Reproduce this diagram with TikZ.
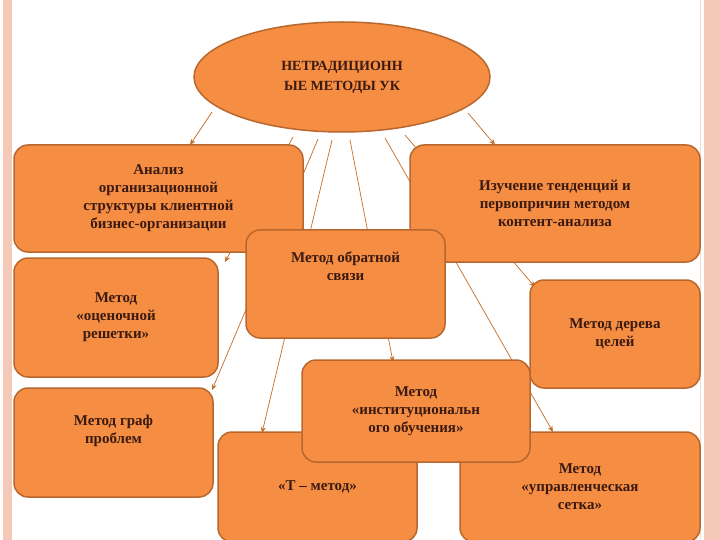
\documentclass[tikz,border=0pt]{standalone}
\usepackage{fontspec}
\setmainfont{Liberation Serif}
\usetikzlibrary{arrows.meta,shapes.geometric}
\definecolor{fillor}{HTML}{F58D42}
\definecolor{edgeor}{HTML}{B8682E}
\definecolor{txt}{HTML}{3A1A12}
\definecolor{pinkb}{HTML}{F4C9B8}
\begin{document}
\begin{tikzpicture}[x=1pt,y=-1pt,
  box/.style={draw=edgeor,line width=1.5pt,fill=fillor,rounded corners=14pt,text=txt,font=\bfseries\fontsize{15}{18}\selectfont,align=center},
  conn/.style={draw=edgeor!80!orange,line width=0.7pt,-{Stealth[length=6pt,width=5pt]}}]
\useasboundingbox (0,0) rectangle (720,540);
\fill[white] (0,0) rectangle (720,540);
\fill[pinkb] (3,0) rectangle (12,540);
\fill[pinkb] (704,0) rectangle (720,540);
\draw[pinkb!70!white,line width=1pt] (700,0) -- (700,540);
% connectors first
\coordinate (s1) at (212,112); \coordinate (e1) at (190,145);
\coordinate (s2) at (293,137); \coordinate (e2) at (225,262);
\coordinate (s3) at (318,139); \coordinate (e3) at (212,390);
\coordinate (s4) at (332,140); \coordinate (e4) at (262,433);
\coordinate (s5) at (350,140); \coordinate (e5) at (393,362);
\coordinate (s6) at (385,138); \coordinate (e6) at (553,432);
\coordinate (s7) at (405,135); \coordinate (e7) at (535,287);
\coordinate (s8) at (468,113); \coordinate (e8) at (495,145);
\foreach \i in {1,...,8} {\draw[conn] (s\i) -- (e\i);}
% boxes
\node[box,minimum width=289pt,minimum height=107pt] (a1) at (158.5,198.5) {Анализ\\организационной\\структуры клиентной\\бизнес-организации};
\node[box,minimum width=290pt,minimum height=117pt] (a2) at (555,203.5) {Изучение тенденций и\\первопричин методом\\контент-анализа};
\node[box,minimum width=204pt,minimum height=119pt] (a3) at (116,317.5) {Метод\\«оценочной\\решетки»};
\node[box,minimum width=199pt,minimum height=108pt] (a4) at (345.5,284) {Метод обратной\\связи\\[1.2em]};
\node[box,minimum width=170pt,minimum height=108pt] (a5) at (615,334) {Метод дерева\\целей};
\node[box,minimum width=199pt,minimum height=109pt] (a6) at (113.5,442.5) {Метод граф\\проблем\\[0.6em]};
\node[box,minimum width=199pt,minimum height=110pt] (a7) at (317.5,487) {«Т – метод»};
\node[box,minimum width=240pt,minimum height=110pt] (a8) at (580,487) {Метод\\«управленческая\\сетка»};
\node[box,minimum width=228pt,minimum height=102pt] (a9) at (416,411) {Метод\\«институциональн\\ого обучения»};
\node[draw=edgeor,line width=1.5pt,fill=fillor,ellipse,minimum width=296pt,minimum height=110pt,text=txt,font=\bfseries\fontsize{14}{20}\selectfont,align=center] (top) at (342,77) {НЕТРАДИЦИОНН\\ЫЕ МЕТОДЫ УК};
\end{tikzpicture}
\end{document}
